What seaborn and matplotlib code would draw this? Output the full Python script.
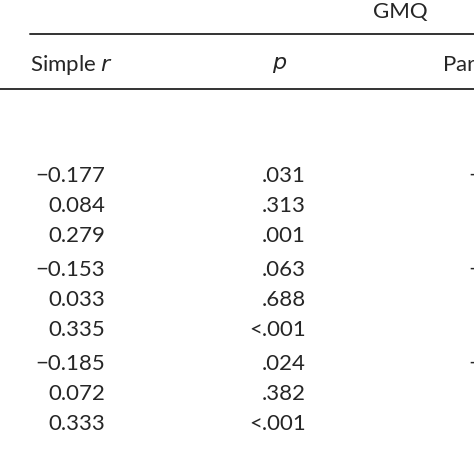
import matplotlib.pyplot as plt
import seaborn as sns

sns.set_style("white")
plt.rcParams["font.family"] = ["Lato", "DejaVu Sans"]

simple_r = ["\u22120.177", "0.084", "0.279",
            "\u22120.153", "0.033", "0.335",
            "\u22120.185", "0.072", "0.333"]
p_vals = [".031", ".313", ".001",
          ".063", ".688", "<.001",
          ".024", ".382", "<.001"]
# third column is cut off in the picture, only the first characters show
partial_r = ["\u22120.1", "0.0", "0.2",
             "\u22120.1", "0.0", "0.3",
             "\u22120.1", "0.0", "0.3"]
row_y = [176, 206, 236, 270, 300, 330, 364, 394, 424]

fig = plt.figure(figsize=(4.74, 4.74), dpi=100)
ax = fig.add_axes([0, 0, 1, 1])
ax.set_xlim(0, 474)
ax.set_ylim(474, 0)
ax.axis("off")

fs = 16
ax.text(400, 12, "GMQ", ha="center", va="center", fontsize=fs)
ax.plot([30, 474], [34, 34], color="#333333", lw=1.4)
ax.text(30, 65, "Simple $r$", ha="left", va="center", fontsize=fs)
ax.text(280, 65, "$p$", ha="center", va="center", fontsize=fs)
ax.text(442, 65, "Partial $r$", ha="left", va="center", fontsize=fs)
ax.plot([0, 474], [89, 89], color="#333333", lw=1.4)

for y, r, p, pr in zip(row_y, simple_r, p_vals, partial_r):
    ax.text(105, y, r, ha="right", va="center", fontsize=fs)
    ax.text(306, y, p, ha="right", va="center", fontsize=fs)
    ax.text(512, y, pr, ha="right", va="center", fontsize=fs)

fig.savefig("out.png", dpi=100)
